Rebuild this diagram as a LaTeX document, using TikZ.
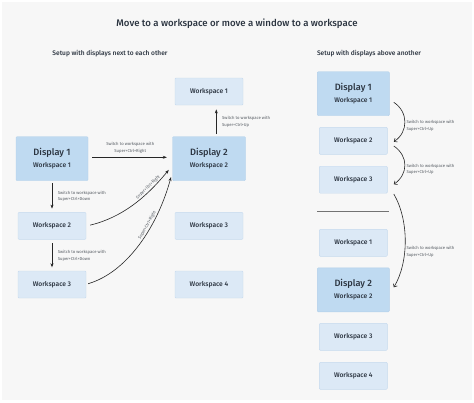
\documentclass[tikz,border=0pt]{standalone}
\usepackage{fontspec}
\setmainfont{Fira Sans}
\newfontfamily\fmed{Fira Sans Medium}
\usetikzlibrary{arrows.meta,calc}
\definecolor{bg}{HTML}{F7F7F7}
\definecolor{dfill}{HTML}{BFDAF1}
\definecolor{ddraw}{HTML}{B2D0EA}
\definecolor{wfill}{HTML}{DCE9F6}
\definecolor{wdraw}{HTML}{C6DAEE}
\definecolor{txt}{HTML}{2B3440}
\definecolor{lbl}{HTML}{555B62}
\newcommand{\fsz}[1]{\fontsize{#1}{#1}\selectfont}
\tikzset{
  dbox/.style={rectangle, rounded corners=1pt, draw=ddraw, fill=dfill, minimum width=72pt, minimum height=44pt, align=center, text=txt, inner sep=0pt},
  wbox/.style={rectangle, rounded corners=1pt, draw=wdraw, fill=wfill, minimum width=68pt, minimum height=27pt, align=center, text=txt, inner sep=0pt, font=\fsz{6.7}\fmed},
  conn/.style={draw=black!85, line width=0.6pt, -{Stealth[length=4pt,width=3pt]}},
  barb/.style={draw=black!85, line width=0.6pt, -{Straight Barb[length=2.5pt,width=4.5pt]}},
  lab/.style={text=lbl, font=\fsz{4.2}, align=left, inner sep=0pt},
  clab/.style={text=lbl, font=\fsz{4.2}, inner sep=1pt},
  ttl/.style={text=txt, font=\fsz{9.6}\fmed},
  sub/.style={text=txt, font=\fsz{6.6}\fmed}
}
\newcommand{\dtext}[2]{{\fontsize{9.2}{10.7}\selectfont\fmed #1}\\{\fontsize{6.7}{10.7}\selectfont\fmed #2}}
\begin{document}
\begin{tikzpicture}[x=1pt,y=-1pt]
\useasboundingbox (0,0) rectangle (474,402);
\fill[white] (0,0) rectangle (474,402);
\fill[bg] (2,2) rectangle (472,400);

\node[ttl] (title) at (237,24) {Move to a workspace or move a window to a workspace};
\node[sub] (subl) at (110,54) {Setup with displays next to each other};
\node[sub] (subr) at (369,54) {Setup with displays above another};

% left setup
\node[dbox] (d1) at (52,158.7) {\dtext{Display 1}{Workspace 1}};
\node[wbox] (lw2) at (52,225.8) {Workspace 2};
\node[wbox] (lw3) at (52,284.5) {Workspace 3};
\node[wbox] (mw1) at (209,91.5) {Workspace 1};
\node[dbox, minimum width=73pt] (d2) at (209,158.7) {\dtext{Display 2}{Workspace 2}};
\node[wbox] (mw3) at (209,225.8) {Workspace 3};
\node[wbox] (mw4) at (209,284.5) {Workspace 4};

\draw[conn, shorten <=4pt, shorten >=5.5pt] ($(d1.east)+(0,-1.4)$) -- ($(d2.west)+(0,-1.4)$)
  node[lab, midway, above=4pt, align=center] {Switch to workspace with\\[2.3pt]Super+Ctrl+Right};
\draw[conn, shorten <=2.5pt, shorten >=3.5pt] (d1.south) -- (lw2.north);
\node[lab, anchor=north west] (l1) at (57.7,190.8) {Switch to workspace with\\[2.3pt]Super+Ctrl+Down};
\draw[conn, shorten <=3.5pt, shorten >=3.5pt] (lw2.south) -- (lw3.north);
\node[lab, anchor=north west] (l2) at (57.7,250.4) {Switch to workspace with\\[2.3pt]Super+Ctrl+Down};
\draw[conn, shorten <=4pt, shorten >=5.5pt] ($(lw2.east)+(0,0.3)$) .. controls (128,216) and (152,190) .. ($(d2.west)+(0,7)$)
  node[clab, pos=0.67, sloped, above] {Super+Ctrl+Right};
\draw[conn, shorten <=2pt, shorten >=5pt] ($(lw3.east)+(0,-0.2)$) .. controls (128,272) and (158,225) .. ($(d2.west)+(0,13.6)$)
  node[clab, pos=0.63, sloped, above] {Super+Ctrl+Right};
\draw[conn, shorten <=2.3pt, shorten >=4.2pt] ($(d2.north)+(7.3,0)$) -- ($(mw1.south)+(7.3,0)$);
\node[lab, anchor=north west] (l3) at (222,116.1) {Switch to workspace with\\[2.3pt]Super+Ctrl+Up};

% right setup
\node[dbox] (rd1) at (353.3,93.7) {\dtext{Display 1}{Workspace 1}};
\node[wbox] (rw2) at (353.3,140.8) {Workspace 2};
\node[wbox] (rw3) at (353.3,179.7) {Workspace 3};
\draw[draw=black!55, line width=0.5pt] (317,211) coordinate (sepl) -- (389,211) coordinate (sepr);
\node[wbox] (rw1) at (353.3,242.8) {Workspace 1};
\node[dbox] (rd2) at (353.3,289.8) {\dtext{Display 2}{Workspace 2}};
\node[wbox] (rw3b) at (353.3,336.8) {Workspace 3};
\node[wbox] (rw4) at (353.3,375.8) {Workspace 4};

\draw[barb] ($(rd1.east)+(4.3,8.6)$) .. controls (408.5,112) and (408.5,132) .. ($(rw2.east)+(6.3,0.9)$);
\node[lab, anchor=north west] (r1) at (406.3,120.1) {Switch to workspace with\\[2.3pt]Super+Ctrl+Up};
\draw[barb] ($(rw2.east)+(6.3,5.2)$) .. controls (408.5,156) and (408.5,174) .. ($(rw3.east)+(6.3,4.6)$);
\node[lab, anchor=north west] (r2) at (406.3,163.8) {Switch to workspace with\\[2.3pt]Super+Ctrl+Up};
\draw[barb] ($(rw3.east)+(6.3,14.3)$) .. controls (409,220) and (409,262) .. ($(rd2.east)+(4.3,-2.5)$);
\node[lab, anchor=north west] (r3) at (406.3,246.1) {Switch to workspace with\\[2.3pt]Super+Ctrl+Up};
\end{tikzpicture}
\end{document}
